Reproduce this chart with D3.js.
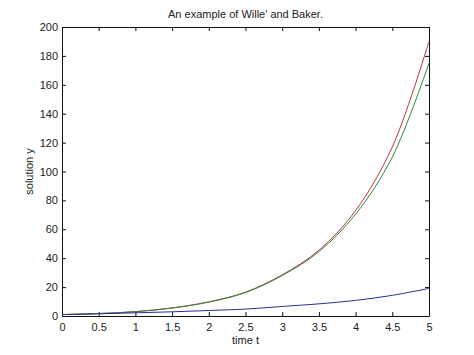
<!DOCTYPE html>
<html>
<head>
<meta charset="utf-8">
<script src="https://cdn.jsdelivr.net/npm/d3@7"></script>
<style>
  body { margin: 0; background: #fff; }
  text { font-family: "Liberation Sans", Arial, sans-serif; fill: #222; }
</style>
</head>
<body>
<div id="chart"></div>
<script>
// values
const times = [0, 0.5, 1, 1.5, 2, 2.5, 3, 3.5, 4, 4.5, 5];
const redValues = [1, 1.7, 3.0, 5.6, 9.8, 16.5, 28.5, 45.5, 73, 117, 190];
const greenValues = [1, 1.7, 3.0, 5.5, 9.6, 16.2, 28, 44.5, 70.5, 110, 175];
const blueValues = [1, 1.5, 2.2, 2.9, 3.8, 4.8, 6.6, 8.4, 10.8, 14.3, 19.1];
const xTicks = [0, 0.5, 1, 1.5, 2, 2.5, 3, 3.5, 4, 4.5, 5];
const yTicks = [0, 20, 40, 60, 80, 100, 120, 140, 160, 180, 200];

const width = 474, height = 355;
const margin = { top: 27, right: 45, bottom: 39, left: 62 };
const innerW = width - margin.left - margin.right;
const innerH = height - margin.top - margin.bottom;

const svg = d3.select("#chart")
    .append("svg")
    .attr("width", width)
    .attr("height", height);

const g = svg.append("g")
    .attr("transform", `translate(${margin.left},${margin.top})`);

const xScale = d3.scaleLinear().domain([0, 5]).range([0, innerW]);
const yScale = d3.scaleLinear().domain([0, 200]).range([innerH, 0]);

// matlab style: ticks pointing inward on all four sides
const fmt = d => String(d);
const bottomAxis = g.append("g")
    .attr("transform", `translate(0,${innerH})`)
    .call(d3.axisBottom(xScale).tickValues(xTicks).tickSizeInner(-4).tickSizeOuter(0).tickPadding(7).tickFormat(fmt));
const topAxis = g.append("g")
    .call(d3.axisTop(xScale).tickValues(xTicks).tickSizeInner(-4).tickSizeOuter(0).tickFormat(""));
const leftAxis = g.append("g")
    .call(d3.axisLeft(yScale).tickValues(yTicks).tickSizeInner(-4).tickSizeOuter(0).tickPadding(4).tickFormat(fmt));
const rightAxis = g.append("g")
    .attr("transform", `translate(${innerW},0)`)
    .call(d3.axisRight(yScale).tickValues(yTicks).tickSizeInner(-4).tickSizeOuter(0).tickFormat(""));

[bottomAxis, topAxis, leftAxis, rightAxis].forEach(ax => {
    ax.select(".domain").attr("stroke", "#111");
    ax.selectAll(".tick line").attr("stroke", "#111");
    ax.selectAll(".tick text").style("font-size", "11px").attr("fill", "#222");
});

// lines
function drawLine(values, color) {
    const line = d3.line()
        .x((d, i) => xScale(times[i]))
        .y(d => yScale(d))
        .curve(d3.curveCatmullRom);
    g.append("path")
        .datum(values)
        .attr("fill", "none")
        .attr("stroke", color)
        .attr("stroke-width", 1)
        .attr("d", line);
}

drawLine(redValues, "#c03040");
drawLine(greenValues, "#2a8a3a");
drawLine(blueValues, "#2c2c9c");

// labels
svg.append("text")
    .attr("x", margin.left + innerW / 2)
    .attr("y", 18)
    .style("text-anchor", "middle")
    .style("font-size", "11px")
    .text("An example of Wille' and Baker.");

svg.append("text")
    .attr("x", margin.left + innerW / 2)
    .attr("y", 344)
    .style("text-anchor", "middle")
    .style("font-size", "11px")
    .text("time t");

svg.append("text")
    .attr("transform", "rotate(-90)")
    .attr("x", -(margin.top + innerH / 2))
    .attr("y", 33)
    .style("text-anchor", "middle")
    .style("font-size", "11px")
    .text("solution y");
</script>
</body>
</html>
